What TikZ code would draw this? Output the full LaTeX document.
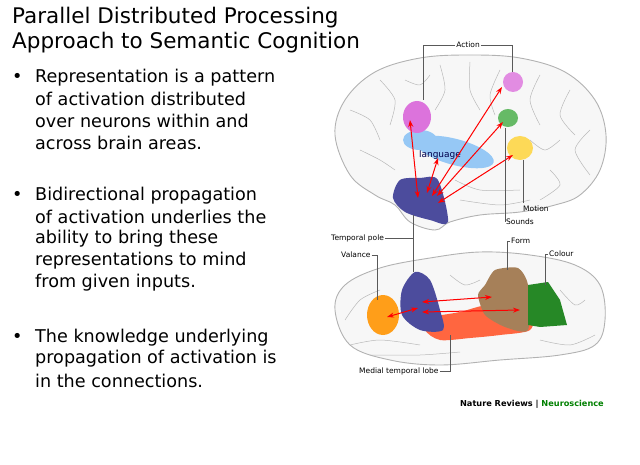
\documentclass[tikz,border=0pt]{standalone}
\usepackage{fontspec}
\setmainfont{DejaVu Sans}
\usetikzlibrary{arrows.meta}
\definecolor{langblue}{RGB}{150,200,245}
\begin{document}
\begin{tikzpicture}[x=1pt,y=-1pt,
  txt/.style={anchor=west,inner sep=0,font=\fontsize{17.6}{18}\selectfont},
  ttl/.style={anchor=west,inner sep=0,font=\fontsize{21.5}{22}\selectfont},
  lab/.style={inner sep=1pt,font=\fontsize{7.5}{8}\selectfont},
  lead/.style={gray!70!black,line width=0.5pt},
  brain/.style={draw=gray!60,fill=gray!6,line width=0.9pt},
  gyr/.style={gray!55,line width=0.5pt},
  arr/.style={red,line width=1pt,{Stealth[length=7pt,width=5pt]}-{Stealth[length=7pt,width=5pt]}}]
\useasboundingbox (0,0) rectangle (640,465);
\node[ttl] (t1) at (12,18) {Parallel Distributed Processing};
\node[ttl] (t2) at (12,43) {Approach to Semantic Cognition};
\foreach \y/\s [count=\i] in {78/Representation is a pattern,99/of activation distributed,121/over neurons within and,143/across brain areas.,196/Bidirectional propagation,217/of activation underlies the,239/ability to bring these,261/representations to mind,283/from given inputs.,338/The knowledge underlying,359/propagation of activation is,381/in the connections.}
  \node[txt] (l\i) at (35,\y) {\s};
\foreach \y [count=\i] in {78,196,338} \node[txt] (b\i) at (12,\y) {•};
% upper brain
\draw[brain] plot[smooth cycle,tension=0.6] coordinates {(335,135) (345,100) (375,72) (420,58) (470,55) (520,58) (565,72) (595,100) (606,135) (600,170) (580,195) (555,205) (520,212) (480,215) (450,222) (435,230) (410,222) (395,205) (375,195) (350,175)};
\foreach \p in {{(350,110) (370,120) (380,140)},{(380,80) (395,100) (390,125)},{(440,65) (445,90) (435,110)},{(470,62) (470,90) (480,110)},{(500,70) (490,95) (495,115)},{(540,75) (530,100) (540,125)},{(570,90) (560,115) (575,135)},{(590,130) (575,150) (590,175)},{(550,170) (560,185) (540,200)},{(455,180) (480,190) (520,190)},{(460,200) (500,205) (530,200)},{(360,150) (380,160) (395,170)},{(405,80) (420,85) (430,75)},{(530,140) (545,150) (560,140)}}
  \draw[gyr] plot[smooth] coordinates {\p};
% upper regions
\fill[langblue] (420,140) ellipse (17 and 10);
\fill[langblue,rotate around={-15:(455,152)}] (455,152) ellipse (40 and 13);
\fill[violet!50!magenta!55] (417,117) ellipse (14 and 16);
\fill[violet!50!magenta!45] (513,82) ellipse (10 and 10);
\fill[green!55!black!60] (508,118) ellipse (10 and 9);
\fill[yellow!60!orange!65] (520,148) ellipse (13 and 12);
\fill[blue!45!black!70] plot[smooth cycle,tension=0.5] coordinates {(400,180) (420,178) (438,180) (448,222) (430,220) (405,212) (393,198)};
\node[font=\fontsize{9}{9}\selectfont,text=blue!30!black] (lang) at (440,155) {language};
% lower brain
\draw[brain] plot[smooth cycle,tension=0.6] coordinates {(335,310) (345,285) (380,268) (430,258) (480,252) (530,255) (575,265) (600,285) (605,320) (595,345) (560,355) (500,360) (440,365) (390,360) (350,345)};
\foreach \p in {{(345,320) (360,300) (380,290)},{(350,345) (380,340) (420,345)},{(370,355) (420,355) (460,352)},{(560,290) (575,305) (585,300)},{(540,340) (570,345) (595,335)},{(450,275) (465,285) (480,280)}}
  \draw[gyr] plot[smooth] coordinates {\p};
\fill[red!60!orange!75] plot[smooth cycle,tension=0.5] coordinates {(430,318) (460,312) (490,305) (530,312) (530,330) (500,335) (470,338) (440,340) (425,330)};
\fill[orange!85!yellow!90] (383,315) ellipse (16 and 20);
\fill[blue!45!black!70] plot[smooth cycle,tension=0.5] coordinates {(415,272) (430,280) (440,310) (443,330) (420,330) (402,315) (402,290)};
\fill[brown!75!black!80] plot[smooth cycle,tension=0.4] coordinates {(495,270) (518,268) (528,285) (528,330) (505,327) (485,315) (478,295) (485,285)};
\fill[green!45!black!85] (528,285) -- (548,282) -- (560,300) -- (567,325) -- (540,327) -- (528,325) -- cycle;
% arrows
\coordinate (p1) at (418,198); \coordinate (q1) at (410,120);
\coordinate (p2) at (427,193); \coordinate (q2) at (438,158);
\coordinate (p3) at (432,196); \coordinate (q3) at (502,87);
\coordinate (p4) at (437,196); \coordinate (q4) at (503,122);
\coordinate (p5) at (438,203); \coordinate (q5) at (513,155);
\coordinate (r1) at (387,317); \coordinate (s1) at (418,308);
\coordinate (r2) at (422,302); \coordinate (s2) at (492,297);
\coordinate (r3) at (422,312); \coordinate (s3) at (520,310);
\foreach \a/\b in {p1/q1,p2/q2,p3/q3,p4/q4,p5/q5,r1/s1,r2/s2,r3/s3} \draw[arr] (\a) -- (\b);
% labels
\node[lab] (act) at (468,45) {Action};
\draw[lead] (act.west) -- (423,45) -- (423,100);
\draw[lead] (act.east) -- (512,45) -- (512,72);
\node[lab,anchor=west] (mot) at (522,209) {Motion};
\draw[lead] (523,203) -- (523,160);
\node[lab,anchor=west] (snd) at (505,222) {Sounds};
\draw[lead] (snd.west) -- (505,222) -- (505,128);
\node[lab,anchor=west] (tp) at (330,238) {Temporal pole};
\draw[lead] (tp.east) -- (413,238);
\draw[lead] (413,215) -- (413,272);
\node[lab,anchor=west] (frm) at (510,241) {Form};
\draw[lead] (frm.west) -- (507,241) -- (507,270);
\node[lab,anchor=west] (col) at (548,254) {Colour};
\draw[lead] (col.west) -- (545,254) -- (545,285);
\node[lab,anchor=west] (val) at (340,255) {Valance};
\draw[lead] (val.east) -- (377,255) -- (377,300);
\node[lab,anchor=west] (mtl) at (358,371) {Medial temporal lobe};
\draw[lead] (mtl.east) -- (450,371) -- (450,335);
\node[anchor=east,inner sep=0,font=\fontsize{8.2}{8}\selectfont\bfseries] (nr) at (604,404) {Nature Reviews | \textcolor{green!50!black}{Neuroscience}};
\end{tikzpicture}
\end{document}
